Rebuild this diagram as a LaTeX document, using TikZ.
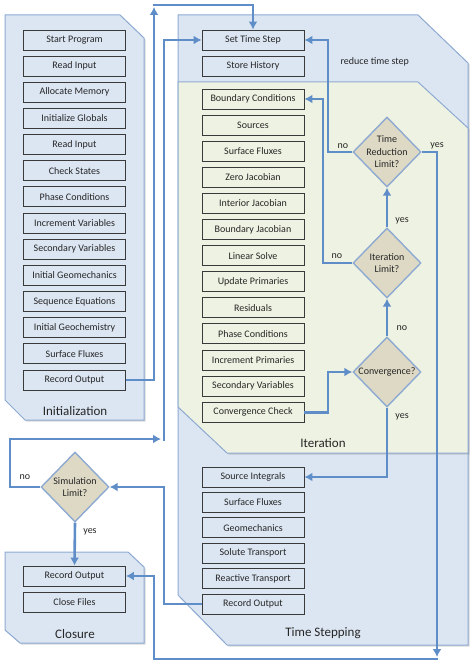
\documentclass[tikz,border=0pt]{standalone}
\usepackage{fontspec}
\setmainfont{Carlito}
\usepackage{xcolor}
\usetikzlibrary{shadows,shapes.geometric,arrows.meta}

\definecolor{panelblue}{HTML}{DCE6F2}
\definecolor{panelgreen}{HTML}{EEF2E2}
\definecolor{panelline}{HTML}{8EAAD2}
\definecolor{linkblue}{HTML}{5F8DC8}
\definecolor{boxline}{HTML}{3A3A3A}
\definecolor{decisiontan}{HTML}{DDD9C4}
\definecolor{textgrey}{HTML}{262626}

\tikzset{
  panel/.style={fill=panelblue, draw=panelline, line width=1pt,
    drop shadow={opacity=0.3, shadow xshift=1.5pt, shadow yshift=-1.5pt}},
  stepbox/.style={draw=boxline, line width=0.9pt, minimum width=102pt,
    minimum height=20pt, inner sep=0pt, text=textgrey,
    font=\fontsize{10}{12}\selectfont},
  decision/.style={diamond, draw=panelline, fill=decisiontan, line width=1.4pt,
    minimum width=68pt, minimum height=70pt, inner sep=0pt},
  link/.style={draw=linkblue, line width=2.6pt, -{Latex[length=8pt,width=9pt]}},
  title/.style={text=textgrey, font=\fontsize{13}{15}\selectfont},
  answer/.style={text=textgrey, font=\fontsize{10}{12}\selectfont}
}

\begin{document}
\begin{tikzpicture}[x=1pt, y=-1pt]
  \useasboundingbox[fill=white] (0,0) rectangle (474,668);

  % panels
  \filldraw[panel] (5,15) -- (120,15) -- (144,38) -- (144,420) -- (25,420) -- (5,400) -- cycle;
  \filldraw[panel] (178,15) -- (418,15) -- (468,63) -- (468,645) -- (227,645) -- (178,595) -- cycle;
  \filldraw[panel, fill=panelgreen] (178,82) -- (418,82) -- (468,128) -- (468,453) -- (227,453) -- (178,407) -- cycle;
  \filldraw[panel] (5,552) -- (128,552) -- (144,567) -- (144,643) -- (20,643) -- (5,630) -- cycle;

  % initialization
  \node[stepbox] (start) at (74.5,40) {Start Program};
  \node[stepbox] (read1) at (74.5,66.2) {Read Input};
  \node[stepbox] (alloc) at (74.5,92.3) {Allocate Memory};
  \node[stepbox] (globals) at (74.5,118.5) {Initialize Globals};
  \node[stepbox] (read2) at (74.5,144.6) {Read Input};
  \node[stepbox] (states) at (74.5,170.8) {Check States};
  \node[stepbox] (phase1) at (74.5,196.9) {Phase Conditions};
  \node[stepbox] (incvar) at (74.5,223.1) {Increment Variables};
  \node[stepbox] (secvar1) at (74.5,249.2) {Secondary Variables};
  \node[stepbox] (geomech1) at (74.5,275.4) {Initial Geomechanics};
  \node[stepbox] (seqeq) at (74.5,301.5) {Sequence Equations};
  \node[stepbox] (geochem) at (74.5,327.7) {Initial Geochemistry};
  \node[stepbox] (flux1) at (74.5,353.8) {Surface Fluxes};
  \node[stepbox] (output1) at (74.5,380) {Record Output};
  \node[title] (inittitle) at (75,411) {Initialization};

  % time stepping
  \node[stepbox] (settime) at (253,40) {Set Time Step};
  \node[stepbox] (history) at (253,66) {Store History};
  \node[answer, anchor=west] (reduce) at (337,62) {reduce time step};

  % iteration
  \node[stepbox] (boundary) at (253,99) {Boundary Conditions};
  \node[stepbox] (sources) at (253,125.1) {Sources};
  \node[stepbox] (flux2) at (253,151.2) {Surface Fluxes};
  \node[stepbox] (zerojac) at (253,177.3) {Zero Jacobian};
  \node[stepbox] (intjac) at (253,203.4) {Interior Jacobian};
  \node[stepbox] (bndjac) at (253,229.5) {Boundary Jacobian};
  \node[stepbox] (solve) at (253,255.6) {Linear Solve};
  \node[stepbox] (update) at (253,281.7) {Update Primaries};
  \node[stepbox] (resid) at (253,307.8) {Residuals};
  \node[stepbox] (phase2) at (253,333.9) {Phase Conditions};
  \node[stepbox] (incprim) at (253,360) {Increment Primaries};
  \node[stepbox] (secvar2) at (253,386.1) {Secondary Variables};
  \node[stepbox] (convcheck) at (253,412.2) {Convergence Check};
  \node[title] (itertitle) at (323,443) {Iteration};

  \node[decision, label={[answer, align=center, font=\fontsize{10}{12.5}\selectfont]center:Time\\Reduction\\Limit?}] (timelimit) at (387,152) {};
  \node[decision, label={[answer, align=center, font=\fontsize{10}{12.5}\selectfont]center:Iteration\\Limit?}] (iterlimit) at (387,263) {};
  \node[decision, label={[answer]center:Convergence?}] (converge) at (387,372) {};

  % time stepping, after iteration
  \node[stepbox] (integrals) at (253,477) {Source Integrals};
  \node[stepbox] (flux3) at (253,502.4) {Surface Fluxes};
  \node[stepbox] (geomech2) at (253,527.8) {Geomechanics};
  \node[stepbox] (solute) at (253,553.2) {Solute Transport};
  \node[stepbox] (reactive) at (253,578.6) {Reactive Transport};
  \node[stepbox] (output2) at (253,604) {Record Output};
  \node[title] (steptitle) at (323,633) {Time Stepping};

  % closure
  \node[decision, label={[answer, align=center, font=\fontsize{10}{12.5}\selectfont]center:Simulation\\Limit?}] (simlimit) at (75,487) {};
  \node[stepbox] (output3) at (74.5,576) {Record Output};
  \node[stepbox] (close) at (74.5,602) {Close Files};
  \node[title] (closetitle) at (75,634) {Closure};

  % junction points
  \coordinate (topleft) at (152.7,5);
  \coordinate (topstop) at (154,7);
  \coordinate (midleft) at (164,441);
  \coordinate (midstop) at (161,439);
  \coordinate (bottomright) at (438.3,659);
  \coordinate (bottomstop) at (437,657);

  % connectors
  \draw[link] (output1.east) -- (154,380) -- (topstop);
  \draw[link] (topleft) -| (settime.north);
  \draw[link] (simlimit.west) -- (10,487) -- (10,439) -- (midstop);
  \draw[link] (midleft) |- (settime.west);
  \draw[link] (timelimit.west) -- (328,152) |- (settime.east);
  \draw[link] (timelimit.east) -- (437,152) -- (bottomstop);
  \draw[link] (bottomright) -- (154,659) |- (output3.east);
  \draw[link] (iterlimit.west) -- (323,263) |- (boundary.east);
  \draw[link] (iterlimit.north) -- (timelimit.south);
  \draw[link] (converge.north) -- (iterlimit.south);
  \draw[link] (convcheck.east) -- (328,412.2) |- (converge.west);
  \draw[link] (converge.south) |- (integrals.east);
  \draw[link] (output2.west) -- (164,604) |- (simlimit.east);
  \draw[link] (simlimit.south) -- (output3.north);

  % answers
  \node[answer] (tlno) at (343,146) {no};
  \node[answer] (tlyes) at (437,146) {yes};
  \node[answer] (ilno) at (337,256) {no};
  \node[answer] (ilyes) at (402,221) {yes};
  \node[answer] (cno) at (402,328) {no};
  \node[answer] (cyes) at (402,417) {yes};
  \node[answer] (slno) at (25,477) {no};
  \node[answer] (slyes) at (90,532) {yes};
\end{tikzpicture}
\end{document}
